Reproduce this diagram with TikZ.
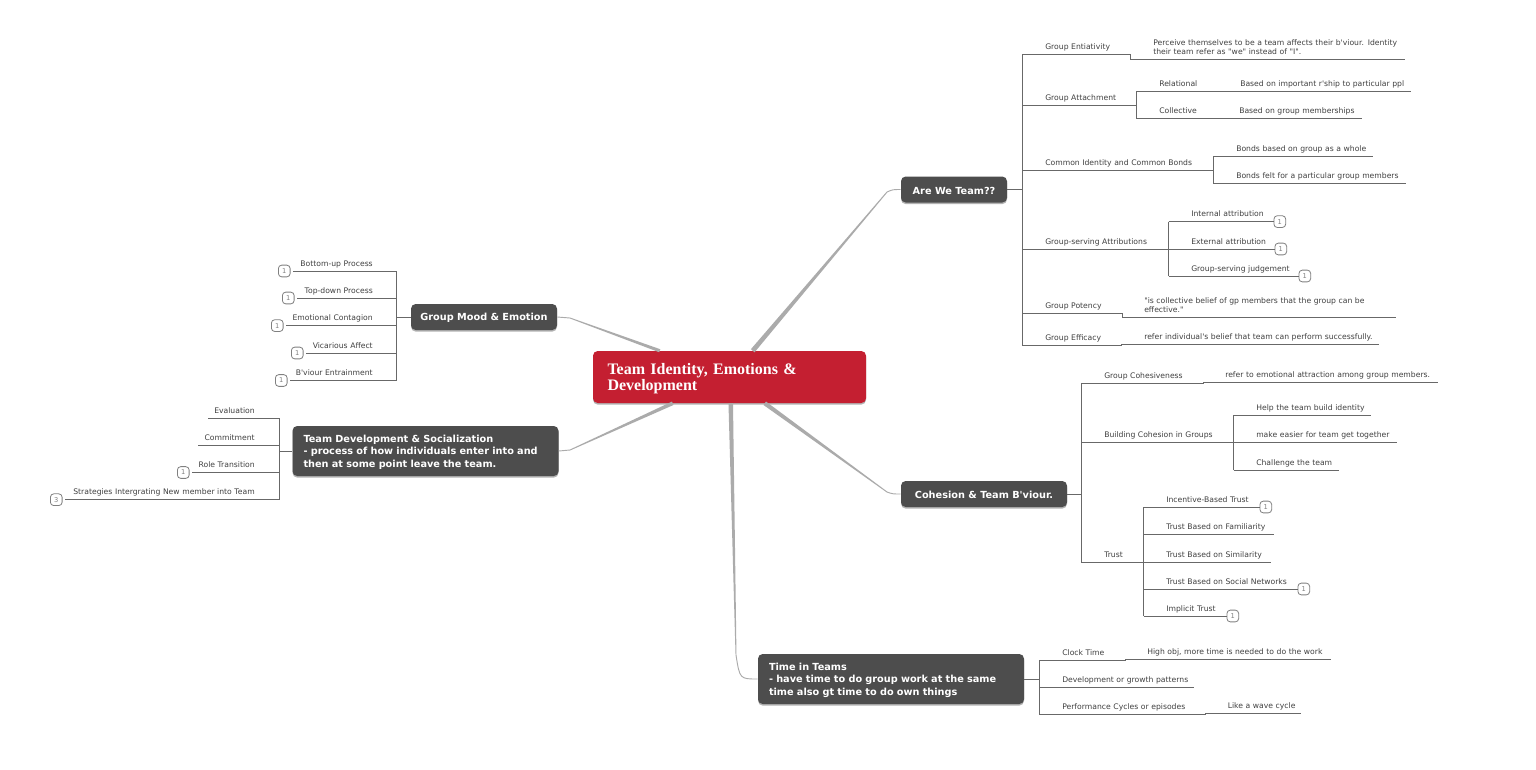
\documentclass[tikz,border=0pt]{standalone}
\usepackage{fontspec}
\newfontfamily\lf{DejaVu Sans}
\newfontfamily\brf{DejaVu Sans}[BoldFont={DejaVu Sans Bold}]
\newfontfamily\ctf{Liberation Serif}
\usetikzlibrary{calc,shadows}
\definecolor{boxgray}{HTML}{4D4D4D}
\definecolor{boxred}{HTML}{C41F31}
\definecolor{linegray}{HTML}{686868}
\definecolor{txtgray}{HTML}{404040}
\definecolor{linklt}{HTML}{ABABAB}
\tikzset{
  leafbase/.style={inner xsep=0pt,inner ysep=1.3pt,font=\lf\fontsize{5.75}{6.9}\selectfont,text=txtgray,execute at end node=\strut},
  twig/.style={draw=linegray,line width=.7pt},
  badgebox/.style={draw=gray,fill=white,rounded corners=2.5pt,minimum width=8.8pt,minimum height=8.8pt,inner sep=0pt,line width=.6pt,font=\lf\fontsize{5}{5}\selectfont,text=gray},
  mainbox/.style={fill=boxgray,rounded corners=3.5pt,text=white,inner sep=0pt,align=left,font=\brf\bfseries\fontsize{7.3}{9.4}\selectfont,execute at begin node={\rule{0pt}{7.5pt}},drop shadow={shadow xshift=0pt,shadow yshift=-1.2pt,fill=black,opacity=.3}},
  rootbox/.style={fill=boxred,rounded corners=3.5pt,text=white,inner sep=0pt,align=left,font=\ctf\bfseries\fontsize{12}{12}\selectfont,execute at begin node={\rule{0pt}{10.5pt}},drop shadow={shadow xshift=0pt,shadow yshift=-1.2pt,fill=black,opacity=.3}},
  thinlink/.style={draw=linklt,line width=.7pt},
  thicklink/.style={fill=linklt,draw=none}
}
% right-growing leaf: name, text x, line y, line end x, text
\newcommand\leafR[5]{\pgfmathsetmacro\tw{(#4-#2)*0.75}\node[leafbase,anchor=south west,text width=\tw pt,align=left] (#1) at (#2,#3) {#5};}
% left-growing leaf: name, line end x, line y, text right x, text
\newcommand\leafL[5]{\pgfmathsetmacro\tw{(#4-#2)*0.75}\node[leafbase,anchor=south east,text width=\tw pt,align=right] (#1) at (#4,#3) {#5};}
\newcommand\badgeR[3]{\node[badgebox,anchor=west] (#1) at (#2.south east) {#3};}
\newcommand\badgeL[3]{\node[badgebox,anchor=east,xshift=-2.2pt] (#1) at (#2.south west) {#3};}
% tapered link: start, bend, end, control offset, start half-width
\newcommand\taper[5]{%
  \fill[thicklink] ($(#1)!#5!90:(#2)$) -- ($(#2)!.35pt!-90:(#1)$) -- ($(#2)!.35pt!90:(#1)$) -- ($(#1)!#5!-90:(#2)$) -- cycle;
  \draw[thinlink] (#2) .. controls ($(#3)+(#4,0)$) .. (#3);}
\begin{document}
\begin{tikzpicture}[x=0.75pt,y=-0.75pt]
\useasboundingbox (0,0) rectangle (1536,769);
\fill[white] (0,0) rectangle (1536,769);

% ---- links from the root are drawn first, boxes on top
\node[rootbox,text width=183pt,minimum width=204.75pt,minimum height=39pt] (root) at (729.5,377) {Team Identity, Emotions \&\\Development};
\node[mainbox,minimum width=79.5pt,minimum height=19.5pt,align=center] (are) at (954,189.5) {Are We Team??};
\node[mainbox,minimum width=124.5pt,minimum height=19.5pt,align=center] (coh) at (984,494) {Cohesion \& Team B'viour.};
\node[mainbox,text width=183pt,minimum width=199.5pt,minimum height=37.5pt] (tim) at (891,679) {Time in Teams\\- have time to do group work at the same\\time also gt time to do own things};
\node[mainbox,minimum width=109.5pt,minimum height=19.5pt,align=center] (moo) at (484,317) {Group Mood \& Emotion};
\node[mainbox,text width=183pt,minimum width=199.5pt,minimum height=37.5pt] (dev) at (425.5,451) {Team Development \& Socialization\\- process of how individuals enter into and\\then at some point leave the team.};

\coordinate (sAre) at ($(root.north west)+(160,0)$);
\coordinate (bAre) at (887,192);
\taper{sAre}{bAre}{are.west}{-8}{1.8pt}
\coordinate (sCoh) at ($(root.south west)+(172,0)$);
\coordinate (bCoh) at (887,492);
\taper{sCoh}{bCoh}{coh.west}{-8}{1.6pt}
\coordinate (sTim) at ($(root.south west)+(138,0)$);
\coordinate (bTim) at (736,655);
\taper{sTim}{bTim}{tim.west}{-18}{1.7pt}
\coordinate (sMoo) at ($(root.north west)+(67,0)$);
\coordinate (bMoo) at (570,318);
\taper{sMoo}{bMoo}{moo.east}{6}{1.2pt}
\coordinate (sDev) at ($(root.south west)+(80,0)$);
\coordinate (bDev) at (570,450);
\taper{sDev}{bDev}{dev.east}{5}{1.4pt}

% ---- Are We Team??
\coordinate (tAre) at (1022,189.5);
\draw[twig] (are.east) -- (tAre);
\leafR{gent}{1045}{54}{1130}{Group Entiativity}
\leafR{gentd}{1153}{59}{1404}{Perceive themselves to be a team affects their b'viour. Identity\\their team refer as "we" instead of "I".}
\leafR{gatt}{1045}{105}{1136}{Group Attachment}
\leafR{grel}{1159}{91}{1235}{Relational}
\leafR{greld}{1240}{91}{1410}{Based on important r'ship to particular ppl}
\leafR{gcol}{1159}{118.6}{1235}{Collective}
\leafR{gcold}{1239}{118.6}{1361}{Based on group memberships}
\leafR{gcom}{1045}{170}{1213}{Common Identity and Common Bonds}
\leafR{gbo}{1236}{156}{1372}{Bonds based on group as a whole}
\leafR{gbf}{1236}{183.6}{1405}{Bonds felt for a particular group members}
\leafR{gser}{1045}{249}{1168}{Group-serving Attributions}
\leafR{gint}{1191}{221.6}{1273}{Internal attribution}
\badgeR{bint}{gint}{1}
\leafR{gext}{1191}{249}{1274}{External attribution}
\badgeR{bext}{gext}{1}
\leafR{gjud}{1191}{276}{1298}{Group-serving judgement}
\badgeR{bjud}{gjud}{1}
\leafR{gpot}{1045}{313}{1122}{Group Potency}
\leafR{gpotd}{1144}{317}{1395}{"is collective belief of gp members that the group can be\\effective."}
\leafR{geff}{1045}{345}{1121}{Group Efficacy}
\leafR{geffd}{1144}{344.5}{1378}{refer individual's belief that team can perform successfully.}
\draw[twig] (tAre |- gent.south) -- (tAre |- geff.south);
\draw[twig] (tAre |- gent.south) -- (gent.south east) -- (gent.south east |- gentd.south) -- (gentd.south east);
\draw[twig] (tAre |- gatt.south) -- (gatt.south east);
\draw[twig] (gatt.south east |- grel.south) -- (gatt.south east |- gcol.south);
\draw[twig] (gatt.south east |- grel.south) -- (greld.south east);
\draw[twig] (gatt.south east |- gcol.south) -- (gcold.south east);
\draw[twig] (tAre |- gcom.south) -- (gcom.south east);
\draw[twig] (gcom.south east |- gbo.south) -- (gcom.south east |- gbf.south);
\draw[twig] (gcom.south east |- gbo.south) -- (gbo.south east);
\draw[twig] (gcom.south east |- gbf.south) -- (gbf.south east);
\draw[twig] (tAre |- gser.south) -- (gser.south east);
\draw[twig] (gser.south east |- gint.south) -- (gser.south east |- gjud.south);
\draw[twig] (gser.south east |- gint.south) -- (bint.west);
\draw[twig] (gser.south east |- gext.south) -- (bext.west);
\draw[twig] (gser.south east |- gjud.south) -- (bjud.west);
\draw[twig] (tAre |- gpot.south) -- (gpot.south east) -- (gpot.south east |- gpotd.south) -- (gpotd.south east);
\draw[twig] (tAre |- geff.south) -- (geff.south east) -- (geff.south east |- geffd.south) -- (geffd.south east);

% ---- Cohesion
\coordinate (tCoh) at (1081,494);
\draw[twig] (coh.east) -- (tCoh);
\leafR{cgc}{1104}{383}{1203}{Group Cohesiveness}
\leafR{cgcd}{1225}{382.5}{1437}{refer to emotional attraction among group members.}
\leafR{cbu}{1104}{442}{1233}{Building Cohesion in Groups}
\leafR{chel}{1256}{415}{1370}{Help the team build identity}
\leafR{cmak}{1256}{442}{1396}{make easier for team get together}
\leafR{ccha}{1256}{470}{1338}{Challenge the team}
\leafR{ctru}{1104}{562}{1143}{Trust}
\leafR{cinc}{1166}{507}{1259}{Incentive-Based Trust}
\badgeR{binc}{cinc}{1}
\leafR{cfam}{1166}{534.6}{1273}{Trust Based on Familiarity}
\leafR{csim}{1166}{562}{1270}{Trust Based on Similarity}
\leafR{csoc}{1166}{589}{1297}{Trust Based on Social Networks}
\badgeR{bsoc}{csoc}{1}
\leafR{cimp}{1166}{616}{1226}{Implicit Trust}
\badgeR{bimp}{cimp}{1}
\draw[twig] (tCoh |- cgc.south) -- (tCoh |- ctru.south);
\draw[twig] (tCoh |- cgc.south) -- (cgc.south east) -- (cgc.south east |- cgcd.south) -- (cgcd.south east);
\draw[twig] (tCoh |- cbu.south) -- (cbu.south east);
\draw[twig] (cbu.south east |- chel.south) -- (cbu.south east |- ccha.south);
\draw[twig] (cbu.south east |- chel.south) -- (chel.south east);
\draw[twig] (cbu.south east |- cmak.south) -- (cmak.south east);
\draw[twig] (cbu.south east |- ccha.south) -- (ccha.south east);
\draw[twig] (tCoh |- ctru.south) -- (ctru.south east);
\draw[twig] (ctru.south east |- cinc.south) -- (ctru.south east |- cimp.south);
\draw[twig] (ctru.south east |- cinc.south) -- (binc.west);
\draw[twig] (ctru.south east |- cfam.south) -- (cfam.south east);
\draw[twig] (ctru.south east |- csim.south) -- (csim.south east);
\draw[twig] (ctru.south east |- csoc.south) -- (bsoc.west);
\draw[twig] (ctru.south east |- cimp.south) -- (bimp.west);

% ---- Time in Teams
\coordinate (tTim) at (1039,679);
\draw[twig] (tim.east) -- (tTim);
\leafR{tclk}{1062}{660}{1125}{Clock Time}
\leafR{tclkd}{1147}{659.5}{1330}{High obj, more time is needed to do the work}
\leafR{tdev}{1062}{687}{1193}{Development or growth patterns}
\leafR{tper}{1062}{714.5}{1205}{Performance Cycles or episodes}
\leafR{tperd}{1227.5}{713.5}{1300}{Like a wave cycle}
\draw[twig] (tTim |- tclk.south) -- (tTim |- tper.south);
\draw[twig] (tTim |- tclk.south) -- (tclk.south east) -- (tclk.south east |- tclkd.south) -- (tclkd.south east);
\draw[twig] (tTim |- tdev.south) -- (tdev.south east);
\draw[twig] (tTim |- tper.south) -- (tper.south east) -- (tper.south east |- tperd.south) -- (tperd.south east);

% ---- Group Mood & Emotion
\coordinate (tMoo) at (396,317);
\draw[twig] (moo.west) -- (tMoo);
\leafL{mbot}{294}{271}{373}{Bottom-up Process}
\badgeL{bbot}{mbot}{1}
\leafL{mtop}{298}{298}{373}{Top-down Process}
\badgeL{btop}{mtop}{1}
\leafL{memo}{287}{325.6}{373}{Emotional Contagion}
\badgeL{bemo}{memo}{1}
\leafL{mvic}{307}{353}{373}{Vicarious Affect}
\badgeL{bvic}{mvic}{1}
\leafL{mbvi}{291}{380.5}{373}{B'viour Entrainment}
\badgeL{bbvi}{mbvi}{1}
\draw[twig] (tMoo |- mbot.south) -- (tMoo |- mbvi.south);
\draw[twig] (tMoo |- mbot.south) -- (mbot.south west);
\draw[twig] (tMoo |- mtop.south) -- (mtop.south west);
\draw[twig] (tMoo |- memo.south) -- (memo.south west);
\draw[twig] (tMoo |- mvic.south) -- (mvic.south west);
\draw[twig] (tMoo |- mbvi.south) -- (mbvi.south west);

% ---- Team Development
\coordinate (tDev) at (279,451);
\draw[twig] (dev.west) -- (tDev);
\leafL{deva}{209}{418}{255}{Evaluation}
\leafL{dcom}{199}{445}{255}{Commitment}
\leafL{drol}{193}{472.5}{255}{Role Transition}
\badgeL{brol}{drol}{1}
\leafL{dstr}{66}{499.7}{255}{Strategies Intergrating New member into Team}
\badgeL{bstr}{dstr}{3}
\draw[twig] (tDev |- deva.south) -- (tDev |- dstr.south);
\draw[twig] (tDev |- deva.south) -- (deva.south west);
\draw[twig] (tDev |- dcom.south) -- (dcom.south west);
\draw[twig] (tDev |- drol.south) -- (drol.south west);
\draw[twig] (tDev |- dstr.south) -- (dstr.south west);
\end{tikzpicture}
\end{document}
